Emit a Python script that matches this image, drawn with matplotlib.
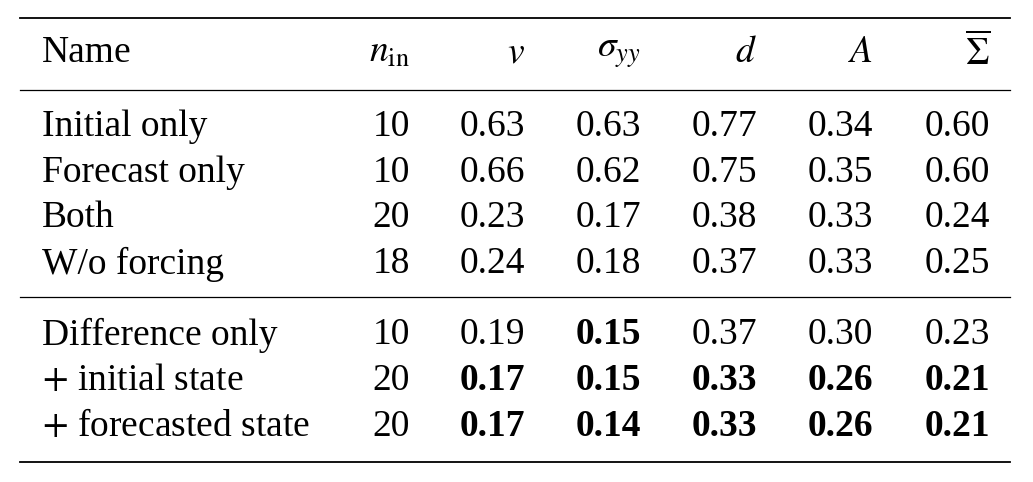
import matplotlib
matplotlib.use("Agg")
import matplotlib.pyplot as plt

plt.rcParams['font.family'] = ['Liberation Serif', 'DejaVu Serif']
plt.rcParams['mathtext.fontset'] = 'stix'

headers = ["Name", r"$n_{\mathrm{in}}$", r"$v$", r"$\sigma_{yy}$", r"$d$", r"$A$", r"$\overline{\Sigma}$"]
names = ["Initial only", "Forecast only", "Both", "W/o forcing",
         "Difference only", r"$+$ initial state", r"$+$ forecasted state"]
n_in = [10, 10, 20, 18, 10, 20, 20]
v = ["0.63", "0.66", "0.23", "0.24", "0.19", "0.17", "0.17"]
syy = ["0.63", "0.62", "0.17", "0.18", "0.15", "0.15", "0.14"]
d = ["0.77", "0.75", "0.38", "0.37", "0.37", "0.33", "0.33"]
A = ["0.34", "0.35", "0.33", "0.33", "0.30", "0.26", "0.26"]
S = ["0.60", "0.60", "0.24", "0.25", "0.23", "0.21", "0.21"]
bold = [
    [0,0,0,0,0,0],
    [0,0,0,0,0,0],
    [0,0,0,0,0,0],
    [0,0,0,0,0,0],
    [0,0,1,0,0,0],
    [0,1,1,1,1,1],
    [0,1,1,1,1,1],
]

W, H = 1033, 482
fig = plt.figure(figsize=(W/100, H/100), dpi=100)
ax = fig.add_axes([0, 0, 1, 1])
ax.set_xlim(0, W); ax.set_ylim(H, 0); ax.axis('off')

fs = 27
col_x = [410, 525, 641, 757, 873, 990]
row_y = [127, 173, 218, 264, 335, 381, 427]

for y, lw in [(18, 1.3), (90, 0.9), (297, 0.9), (462, 1.3)]:
    ax.plot([20, 1010], [y, y], color='black', lw=lw)

ax.text(42, 53, headers[0], fontsize=fs, ha='left', va='center')
for x, h in zip(col_x, headers[1:]):
    ax.text(x, 53, h, fontsize=fs, ha='right', va='center')

for i, y in enumerate(row_y):
    ax.text(42, y, names[i], fontsize=fs, ha='left', va='center')
    vals = [str(n_in[i]), v[i], syy[i], d[i], A[i], S[i]]
    for j, (x, val) in enumerate(zip(col_x, vals)):
        ax.text(x, y, val, fontsize=fs, ha='right', va='center',
                fontweight='bold' if bold[i][j] else 'normal')

fig.savefig("out.png", dpi=100)
